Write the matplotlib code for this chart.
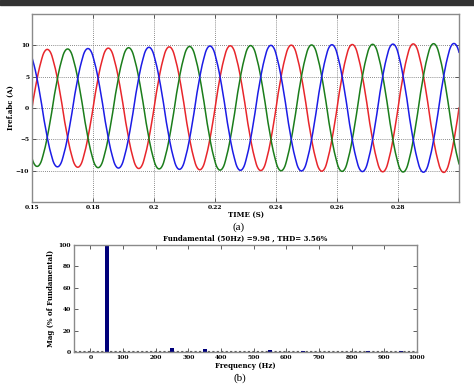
import numpy as np
import matplotlib
matplotlib.use("Agg")
import matplotlib.pyplot as plt
from matplotlib.patches import Rectangle

# --- data ---
# (a) three-phase reference currents, 50 Hz
freq = 50.0
t_start, t_end = 0.16, 0.30
cycle_times = [0.16, 0.18, 0.20, 0.22, 0.24, 0.26, 0.28, 0.30]
cycle_amps = [9.3, 9.5, 9.7, 9.9, 10.0, 10.1, 10.2, 10.3]
phase_shift_deg = {"a": 0, "b": -120, "c": 120}
phase_colors = {"a": "#e8262b", "b": "#1b7d1b", "c": "#1c1ce6"}
xtick_pos = [0.16, 0.18, 0.20, 0.22, 0.24, 0.26, 0.28]
xtick_labels = ["0.15", "0.18", "0.2", "0.22", "0.24", "0.26", "0.28"]
ytick_pos = [-10, -5, 0, 5, 10]

# (b) harmonic spectrum (% of fundamental)
spec_freqs = [0, 50, 100, 150, 200, 250, 300, 350, 400, 450, 500,
              550, 600, 650, 700, 750, 800, 850, 900, 950, 1000]
spec_mags = [0.3, 100, 0.3, 0.3, 0.3, 3.5, 0.3, 2.7, 0.3, 0.3, 0.3,
             1.8, 0.3, 1.2, 0.3, 0.3, 0.3, 0.8, 0.3, 0.8, 0.3]
harm_orders = [5, 7, 11, 13, 17, 19]
harm_pct = [3.5, 2.7, 1.8, 1.2, 0.8, 0.8]

tick_font = dict(family="DejaVu Serif", weight="bold", size=4.3)
label_font = dict(family="DejaVu Serif", weight="bold", size=5)

fig = plt.figure(figsize=(4.74, 3.84), dpi=100)
fig.patches.append(Rectangle((0, 1 - 5 / 384), 1, 5 / 384, transform=fig.transFigure,
                             color="#333333", zorder=0))

def style_axes(ax):
    for sp in ax.spines.values():
        sp.set_color("#8a8a8a")
        sp.set_linewidth(1.0)
    ax.tick_params(direction="in", length=3, width=0.6, color="#444444",
                   top=True, right=True, pad=2)
    for lab in ax.get_xticklabels() + ax.get_yticklabels():
        lab.set_fontfamily(tick_font["family"])
        lab.set_fontweight(tick_font["weight"])
        lab.set_fontsize(tick_font["size"])

# ---------- (a) ----------
ax1 = fig.add_axes([32 / 474, 1 - 202 / 384, 427 / 474, 188 / 384])
t = np.linspace(t_start, t_end, 4000)
amp = np.interp(t, cycle_times, cycle_amps)
theta0 = 2 * np.pi * freq * (t - t_start)
for ph in ["a", "b", "c"]:
    th = theta0 + np.deg2rad(phase_shift_deg[ph])
    wave = np.sin(th)
    for h, p in zip(harm_orders, harm_pct):
        wave = wave + 0.15 * p / 100 * np.sin(h * th)
    ax1.plot(t, amp * wave, color=phase_colors[ph], lw=1.1)
ax1.set_xlim(t_start, t_end)
ax1.set_ylim(-15, 15)
ax1.set_xticks(xtick_pos)
ax1.set_xticklabels(xtick_labels)
ax1.set_yticks(ytick_pos)
ax1.grid(True, linestyle=(0, (1, 1.5)), color="#666666", linewidth=0.6)
style_axes(ax1)
ax1.set_xlabel("TIME (S)", labelpad=1, **label_font)
ax1.set_ylabel("Iref.abc (A)", labelpad=0.5, **label_font)

fig.text(239 / 474, 1 - 227 / 384, "(a)", family="Liberation Serif", size=8,
         ha="center", va="center")

# ---------- (b) ----------
ax2 = fig.add_axes([74 / 474, 1 - 352 / 384, 343 / 474, 107 / 384])
ax2.bar(spec_freqs, spec_mags, width=13, color="#00007a", zorder=2)
ax2.axhline(0.5, color="#555555", lw=0.8, linestyle=(0, (2, 2)), zorder=1)
ax2.set_xlim(-50, 1000)
ax2.set_ylim(0, 100)
ax2.set_xticks(range(0, 1001, 100))
ax2.set_yticks(range(0, 101, 20))
style_axes(ax2)
ax2.set_title("Fundamental (50Hz) =9.98 , THD= 3.56%", pad=3, **label_font)
ax2.set_xlabel("Frequency (Hz)", labelpad=1.5, **label_font)
ax2.set_ylabel("Mag (% of Fundamental)", labelpad=2.5, **label_font)

fig.text(240 / 474, 1 - 378 / 384, "(b)", family="Liberation Serif", size=8,
         ha="center", va="center")

fig.savefig("out.png", dpi=100)
